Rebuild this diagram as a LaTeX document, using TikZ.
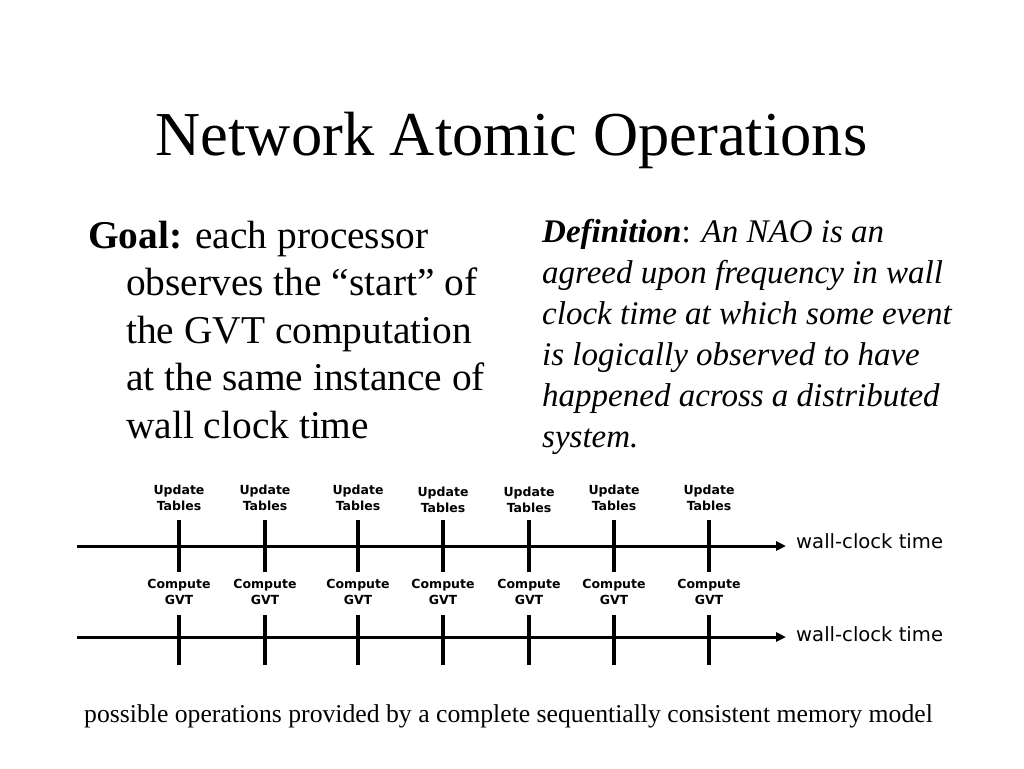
\documentclass[tikz,border=0pt]{standalone}
\usepackage{fontspec}
\setmainfont{Liberation Serif}
\newfontfamily\lblfont{DejaVu Sans}
\usetikzlibrary{arrows.meta}
\begin{document}
\begin{tikzpicture}[x=1pt,y=-1pt,
  axis/.style={line width=3pt,-{Triangle[length=10pt,width=9pt]}},
  tick/.style={line width=4pt},
  lbl/.style={font=\lblfont\bfseries\fontsize{12.5}{16.5}\selectfont,align=center,inner sep=0pt},
  wct/.style={font=\lblfont\fontsize{19.6}{22}\selectfont,anchor=base west,inner sep=0pt}]
\useasboundingbox (0,0) rectangle (1024,768);
\node[font=\fontsize{62.5}{70}\selectfont,anchor=base] (title) at (511.5,155) {Network Atomic Operations};
% anchor=base of a multi-line node is the baseline of its last line
\node[font=\fontsize{39.4}{47.5}\selectfont,anchor=base west,align=left,inner sep=0pt] (goal) at (88,438)
 {\textbf{Goal:} each processor\\\hspace*{38pt}observes the ``start'' of\\\hspace*{38pt}the GVT computation\\\hspace*{38pt}at the same instance of\\\hspace*{38pt}wall clock time};
\node[font=\itshape\fontsize{33}{41}\selectfont,anchor=base west,align=left,inner sep=0pt] (def) at (542,447)
 {\textbf{Definition}\upshape:\itshape{} An NAO is an\\agreed upon frequency in wall\\clock time at which some event\\is logically observed to have\\happened across a distributed\\system.};
% timelines
\coordinate (a1) at (77,546); \coordinate (b1) at (786,546);
\coordinate (a2) at (77,637); \coordinate (b2) at (786,637);
\draw[axis] (a1) -- (b1);
\draw[axis] (a2) -- (b2);
\node[wct] (w1) at (796,548) {wall-clock time};
\node[wct] (w2) at (796,641) {wall-clock time};
\foreach \x/\dy [count=\i] in {179/0,265/0,358/0,443/2,529/2,614/0,709/0} {
  \draw[tick] (\x,520) -- (\x,572);
  \draw[tick] (\x,615) -- (\x,665);
  \node[lbl] (u\i) at (\x,498+\dy) {Update\\Tables};
  \node[lbl] (c\i) at (\x,592) {Compute\\GVT};
}
\node[font=\fontsize{25.7}{28}\selectfont,anchor=base] (cap) at (508.5,722) {possible operations provided by a complete sequentially consistent memory model};
\end{tikzpicture}
\end{document}
